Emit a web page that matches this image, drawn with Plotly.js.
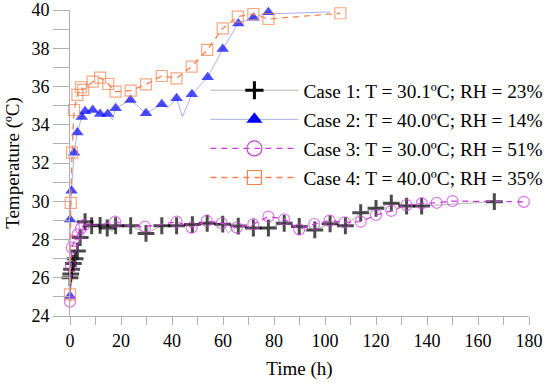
<!DOCTYPE html>
<html>
<head>
<meta charset="utf-8">
<script src="https://cdn.plot.ly/plotly-3.0.1.min.js"></script>
<style>html,body{margin:0;padding:0;background:#fff;}#chart{width:550px;height:388px;}</style>
</head>
<body>
<div id="chart"></div>
<script>
// ---- Data ----
const seriesNames = [
  "Case 1: T = 30.1ºC; RH = 23%",
  "Case 2: T = 40.0ºC; RH = 14%",
  "Case 3: T = 30.0ºC; RH = 51%",
  "Case 4: T = 40.0ºC; RH = 35%"
];
const xTitle = "Time (h)";
const yTitle = "Temperature (ºC)";

// Case 1
const case1Time = [0, 0.3, 0.6, 1.3, 2, 2.9, 4.0, 5.9, 8.5, 11.8, 14.6, 16.5, 17.9, 23.8, 29.8, 36, 41.8, 48, 53.8, 59.9, 62, 66, 71.9, 77.8, 84, 89.9, 92, 96, 102, 108, 114, 120, 126, 132, 137.9, 166.4];
const case1Temp = [26.0, 26.2, 26.45, 26.75, 27.0, 27.4, 28.1, 28.93, 28.72, 28.74, 28.6, 28.42, 28.72, 28.72, 28.32, 28.72, 28.72, 28.78, 28.85, 28.8, 28.35, 28.7, 28.6, 28.6, 28.85, 28.68, 28.45, 28.5, 28.82, 28.72, 29.4, 29.63, 29.9, 29.75, 29.75, 29.98];
const case1Marked = [1,1,1,1,1,1,1,1,1,1,1,0,1,1,1,1,1,1,1,1,0,1,1,1,1,1,0,1,1,1,1,1,1,1,1,1];

// Case 2
const case2Time = [0, 0, 0.6, 1.6, 2.9, 4.6, 5.9, 8.9, 11.8, 14.8, 16.7, 17.9, 23.7, 29.8, 36, 38.5, 41.8, 44.1, 47.8, 54, 59.9, 66, 71.9, 77.8, 80, 102];
const case2Temp = [25.05, 29.05, 30.55, 32.54, 33.6, 34.4, 34.7, 34.77, 34.56, 34.56, 34.25, 34.86, 35.3, 34.6, 35.07, 34.9, 35.38, 34.42, 35.6, 36.48, 37.96, 39.3, 39.6, 39.88, 39.8, 39.9];
const case2Marked = [1,1,1,1,1,1,1,1,1,1,0,1,1,1,1,0,1,0,1,1,1,1,1,1,0,0];

// Case 3
const case3Time = [0, 0.4, 0.7, 1.7, 3, 4.3, 5.6, 11.8, 17.7, 23.8, 29.4, 36, 41.8, 47.7, 53.6, 59.5, 65.4, 71.9, 77.8, 84, 89.9, 95.8, 101.8, 107.7, 114, 120, 126, 132, 137.9, 143.8, 150, 178];
const case3Temp = [24.75, 26.6, 27.57, 27.92, 28.27, 28.58, 28.76, 28.75, 28.93, 28.7, 28.67, 28.8, 28.93, 28.62, 28.97, 28.85, 28.62, 28.8, 29.2, 29.06, 28.53, 28.81, 28.99, 28.9, 28.93, 29.28, 29.5, 29.8, 29.89, 29.92, 30.01, 29.97];
const case3Marked = [1,1,1,1,1,1,1,0,1,0,1,0,1,1,1,1,1,1,1,1,1,1,1,1,1,1,1,1,1,1,1,1];

// Case 4
const case4Time = [0, 0.3, 0.8, 1.6, 2.9, 4.3, 5.2, 8.9, 11.8, 15, 17.9, 23.8, 29.8, 36, 41.8, 47.7, 53.8, 59.9, 65.8, 71.9, 77.8, 106];
const case4Temp = [25.13, 29.92, 32.54, 34.77, 35.56, 35.96, 35.82, 36.25, 36.46, 36.13, 35.73, 35.78, 36.11, 36.55, 36.43, 37.04, 37.91, 39.04, 39.65, 39.79, 39.53, 39.83];
const case4Marked = [1,1,1,1,1,1,1,1,1,1,1,1,1,1,1,1,1,1,1,1,1,1];

// ---- Styles ----
const FONT = 'Liberation Serif, Times New Roman, serif';
const styles = [
  {line: {color: '#b4b4b4', width: 1}, symbol: 'cross-thin', mcolor: '#000000', mline: {color: '#000000', width: 3}, size: 12, legSize: 13},
  {line: {color: '#a9b0f2', width: 1}, symbol: 'triangle-up', mcolor: '#0000ff', mline: {color: '#0000ff', width: 0}, size: 11, legSize: 14},
  {line: {color: '#cc3ddd', width: 1.3, dash: '6px,5px'}, symbol: 'circle-open', mcolor: '#cc3ddd', mline: {color: '#cc3ddd', width: 1.2}, size: 11, legSize: 15},
  {line: {color: '#f7814f', width: 1.3, dash: '6px,5px'}, symbol: 'square-open', mcolor: '#f7814f', mline: {color: '#f7814f', width: 1.2}, size: 11, legSize: 14}
];

const allX = [case1Time, case2Time, case3Time, case4Time];
const allY = [case1Temp, case2Temp, case3Temp, case4Temp];
const allM = [case1Marked, case2Marked, case3Marked, case4Marked];

const traces = [];
for (let i = 0; i < 4; i++) {
  const s = styles[i];
  traces.push({
    type: 'scatter', mode: 'lines+markers',
    x: allX[i], y: allY[i],
    name: seriesNames[i], showlegend: false, legendgroup: 'g' + i,
    cliponaxis: false,
    line: s.line,
    marker: {symbol: s.symbol, color: s.mcolor, size: allM[i].map(m => m ? s.size : 0), line: s.mline}
  });
}
// legend entries
for (let i = 0; i < 4; i++) {
  const s = styles[i];
  traces.push({
    type: 'scatter', mode: 'lines+markers',
    x: [null], y: [null],
    name: seriesNames[i], showlegend: true, legendgroup: 'g' + i,
    line: s.line,
    marker: {symbol: s.symbol, color: s.mcolor, size: s.legSize, line: s.mline}
  });
}

const axisColor = '#b0b0b0';
const layout = {
  width: 550, height: 388,
  margin: {l: 70, r: 21, t: 10, b: 72, pad: 0, autoexpand: false},
  paper_bgcolor: '#ffffff', plot_bgcolor: '#ffffff',
  font: {family: FONT, color: '#000000', size: 17},
  showlegend: true,
  legend: {
    x: 0.295, y: 0.80, xanchor: 'left', yanchor: 'top',
    bgcolor: 'rgba(0,0,0,0)', borderwidth: 0,
    font: {size: 19.3, family: FONT, color: '#000'},
    itemwidth: 88, traceorder: 'grouped', tracegroupgap: 1
  },
  xaxis: {
    range: [0, 180], dtick: 20, tick0: 0,
    showgrid: false, zeroline: false,
    showline: true, linecolor: axisColor, linewidth: 1,
    ticks: 'outside', ticklen: 8, tickcolor: axisColor, tickwidth: 1,
    minor: {dtick: 10, ticks: 'outside', ticklen: 8, tickcolor: axisColor, tickwidth: 1, showgrid: false},
    tickfont: {size: 18, family: FONT},
    title: {text: xTitle, font: {size: 19, family: FONT}, standoff: 12}
  },
  yaxis: {
    range: [24, 40], dtick: 2, tick0: 24,
    showgrid: false, zeroline: false,
    showline: true, linecolor: axisColor, linewidth: 1,
    ticks: 'outside', ticklen: 16, tickcolor: axisColor, tickwidth: 1,
    minor: {dtick: 1, ticks: 'outside', ticklen: 16, tickcolor: axisColor, tickwidth: 1, showgrid: false},
    tickfont: {size: 18, family: FONT},
    title: {text: yTitle, font: {size: 19, family: FONT}, standoff: 6}
  }
};

Plotly.newPlot('chart', traces, layout, {displayModeBar: false, staticPlot: true});
</script>
</body>
</html>
